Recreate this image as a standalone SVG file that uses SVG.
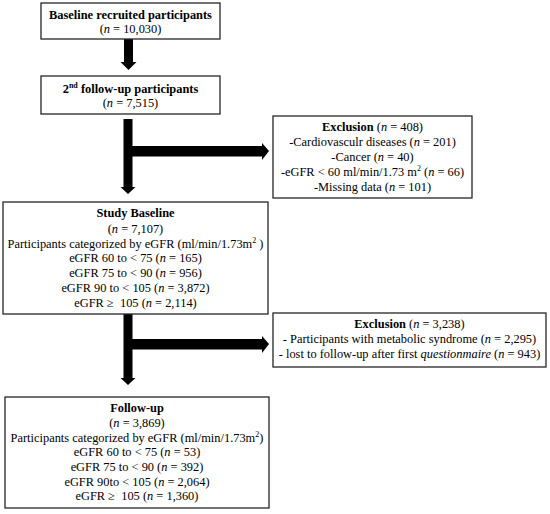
<svg xmlns="http://www.w3.org/2000/svg" width="550" height="514" viewBox="0 0 550 514">
<style>
.box{fill:#fff;stroke:#262626;stroke-width:1.3}
text{font-family:"Liberation Serif","Times New Roman",serif;font-size:12.4px;fill:#000;text-anchor:middle}
.b{font-weight:bold}
.i{font-style:italic}
.arr{fill:#000}
</style>
<rect width="550" height="514" fill="#fff"/>
<g id="connectors">
<polygon class="arr" points="124,39 133,39 133,62 136.5,62 128.5,70 120.5,62 124,62"/>
<polygon class="arr" points="123.5,119 132.5,119 132.5,146 262,146 262,143 269,151 262,160 262,156.5 132.5,156.5 132.5,187 135.5,187 128,194 120.5,187 123.5,187"/>
<polygon class="arr" points="123.5,312 132.5,312 132.5,339 262,339 262,336 269,344 262,353 262,349.5 132.5,349.5 132.5,378 135.5,378 128,385 120.5,378 123.5,378"/>
</g>
<g id="baseline">
<rect class="box" x="41" y="3" width="179" height="36"/>
<text x="130.5" y="19" class="b">Baseline recruited participants</text>
<text x="130.5" y="33">(<tspan class="i">n</tspan> = 10,030)</text>
</g>
<g id="followup2">
<rect class="box" x="41" y="76" width="179" height="38"/>
<text x="130.5" y="93" class="b">2<tspan font-size="8" dy="-5">nd</tspan><tspan dy="5"> follow-up participants</tspan></text>
<text x="130.5" y="107">(<tspan class="i">n</tspan> = 7,515)</text>
</g>
<g id="exclusion1">
<rect class="box" x="273" y="116" width="199" height="82"/>
<text x="372.5" y="131"><tspan class="b">Exclusion</tspan> (<tspan class="i">n</tspan> = 408)</text>
<text x="372.5" y="146">-Cardiovasculr diseases (<tspan class="i">n</tspan> = 201)</text>
<text x="372.5" y="161">-Cancer (<tspan class="i">n</tspan> = 40)</text>
<text x="372.5" y="176">-eGFR &lt; 60 ml/min/1.73 m<tspan font-size="8" dy="-5">2</tspan><tspan dy="5"> (</tspan><tspan class="i">n</tspan> = 66)</text>
<text x="372.5" y="191">-Missing data (<tspan class="i">n</tspan> = 101)</text>
</g>
<g id="study-baseline">
<rect class="box" x="3" y="202" width="265" height="112"/>
<text x="135.5" y="217" class="b">Study Baseline</text>
<text x="135.5" y="233">(<tspan class="i">n</tspan> = 7,107)</text>
<text x="135.5" y="248">Participants categorized by eGFR (ml/min/1.73m<tspan font-size="8" dy="-5">2</tspan><tspan dy="5"> )</tspan></text>
<text x="135.5" y="262">eGFR 60 to &lt; 75 (<tspan class="i">n</tspan> = 165)</text>
<text x="135.5" y="277">eGFR 75 to &lt; 90 (<tspan class="i">n</tspan> = 956)</text>
<text x="135.5" y="292">eGFR 90 to &lt; 105 (<tspan class="i">n</tspan> = 3,872)</text>
<text x="135.5" y="307">eGFR ≥&#160; 105 (<tspan class="i">n</tspan> = 2,114)</text>
</g>
<g id="exclusion2">
<rect class="box" x="273" y="313" width="273" height="54"/>
<text x="409.5" y="328"><tspan class="b">Exclusion</tspan> (<tspan class="i">n</tspan> = 3,238)</text>
<text x="409.5" y="343">- Participants with metabolic syndrome (<tspan class="i">n</tspan> = 2,295)</text>
<text x="409.5" y="358">- lost to follow-up after first <tspan class="i">questionmaire</tspan> (<tspan class="i">n</tspan> = 943)</text>
</g>
<g id="followup">
<rect class="box" x="5" y="397" width="264" height="111"/>
<text x="137" y="412" class="b">Follow-up</text>
<text x="137" y="427">(<tspan class="i">n</tspan> = 3,869)</text>
<text x="137" y="442">Participants categorized by eGFR (ml/min/1.73m<tspan font-size="8" dy="-5">2</tspan><tspan dy="5">)</tspan></text>
<text x="137" y="456">eGFR 60 to &lt; 75 (<tspan class="i">n</tspan> = 53)</text>
<text x="137" y="471">eGFR 75 to &lt; 90 (<tspan class="i">n</tspan> = 392)</text>
<text x="137" y="486">eGFR 90to &lt; 105 (<tspan class="i">n</tspan> = 2,064)</text>
<text x="137" y="500">eGFR ≥&#160; 105 (<tspan class="i">n</tspan> = 1,360)</text>
</g>
</svg>
